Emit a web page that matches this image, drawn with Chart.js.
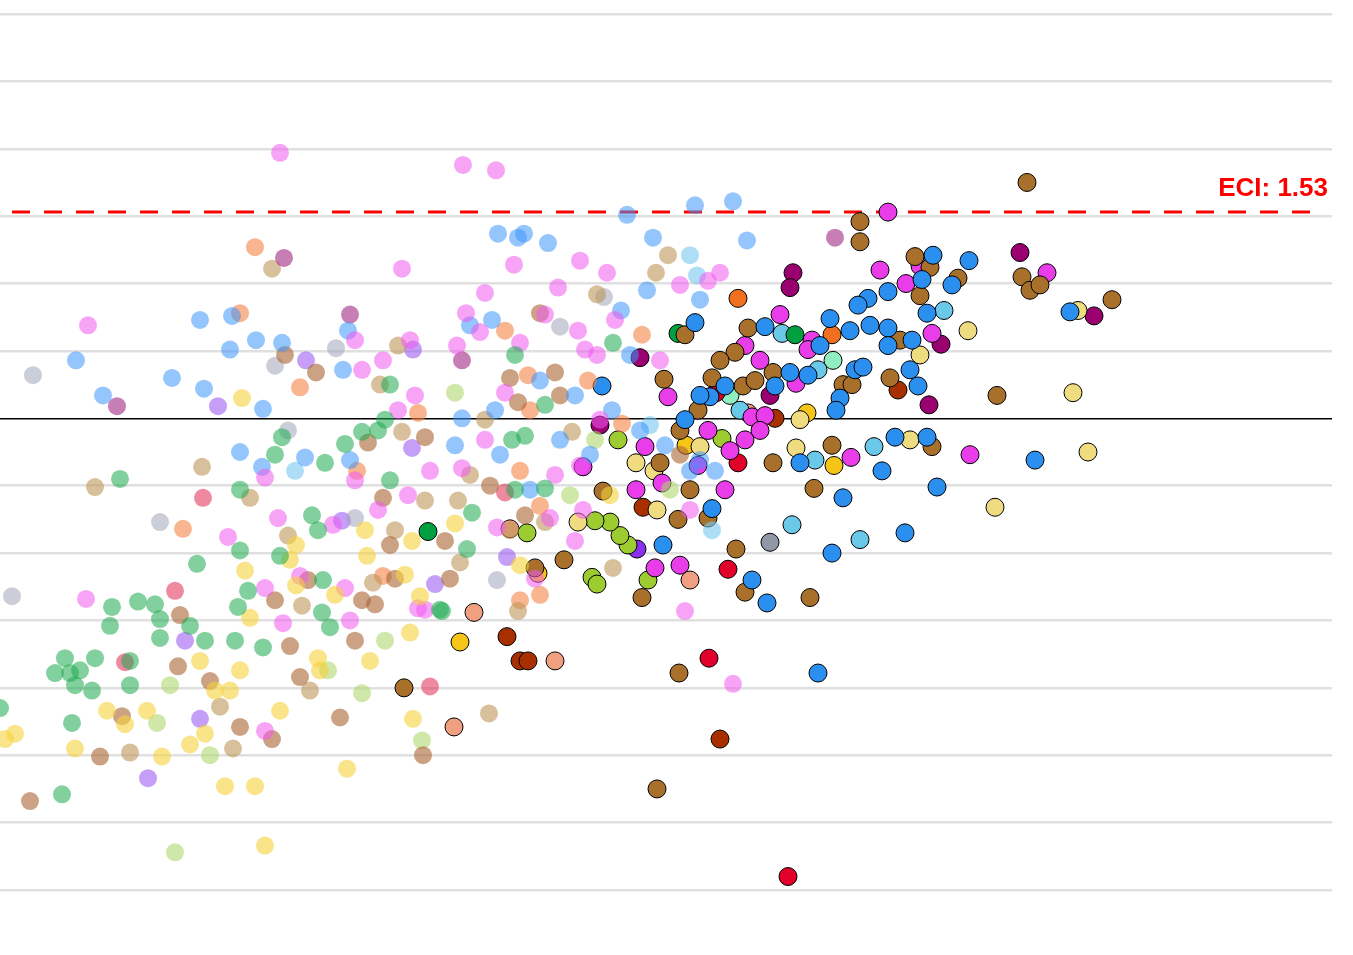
<!DOCTYPE html>
<html><head><meta charset="utf-8">
<script src="https://cdn.jsdelivr.net/npm/chart.js@4"></script>
<style>html,body{margin:0;padding:0;background:#fff}#w{width:1353px;height:955px}</style>
</head><body><div id="w"><canvas id="c"></canvas></div>
<script>
const eciValue = 1.53;
const yTicks = [-3.5,-3,-2.5,-2,-1.5,-1,-0.5,0,0.5,1,1.5,2,2.5,3];
// faded (other economies)
const fadedGreen = [[0,-2.15],[6.2,-2.79],[12,-0.45],[5.5,-1.89],[6.5,-1.78],[7,-1.89],[8,-1.87],[7.5,-1.98],[9.2,-2.02],[9.5,-1.78],[11.2,-1.40],[11,-1.54],[13.8,-1.36],[15.5,-1.38],[16,-1.49],[16,-1.63],[13,-1.80],[13,-1.98],[7.2,-2.26],[19,-1.54],[20.5,-1.65],[19.7,-1.08],[24,-0.98],[24,-0.53],[28.2,-0.14],[39,0.25],[38.5,-0.01],[37.8,-0.09],[36.2,-0.10],[34.5,-0.19],[32.5,-0.33],[27.5,-0.27],[31.2,-0.72],[31.8,-0.83],[39,-0.46],[28,-1.02],[24.8,-1.28],[23.8,-1.40],[26.3,-1.70],[23.5,-1.65],[32.3,-1.20],[32.2,-1.44],[33,-1.55],[44,-1.42],[46.7,-0.97],[47.2,-0.70],[51.5,0.47],[61.3,0.56],[54.5,0.10],[51.2,-0.16],[52.5,-0.13],[51.5,-0.53],[54.5,-0.52],[44.2,-1.43]];
const fadedYellow = [[1.5,-2.34],[0.5,-2.38],[10.7,-2.17],[12.5,-2.27],[7.5,-2.45],[14.7,-2.17],[16.2,-2.51],[19,-2.42],[20.5,-2.34],[22.5,-2.73],[25.5,-2.73],[26.5,-3.17],[28,-2.17],[21.5,-2.02],[20,-1.80],[23,-2.02],[24,-1.87],[24.2,0.15],[29.6,-0.94],[36.5,-0.83],[41.2,-0.91],[29,-1.05],[29.6,-1.24],[24.5,-1.13],[25,-1.48],[32,-1.87],[31.8,-1.78],[34.7,-2.60],[33.5,-1.31],[37,-1.80],[36.7,-1.02],[40.5,-1.16],[41,-1.59],[42,-1.32],[45.5,-0.78],[52,-1.09],[61,-0.57],[41.3,-2.23]];
const fadedPink = [[8.8,0.69],[8.6,-1.34],[26.5,-2.32],[22.8,-0.88],[28,1.97],[35.5,0.58],[36.2,0.36],[38.3,0.43],[41,0.58],[40.2,1.11],[41.5,0.17],[39.8,0.06],[26.5,-0.44],[27.8,-0.74],[33.3,-0.79],[35.5,-0.46],[37.8,-0.68],[40.8,-0.57],[43,-0.39],[30,-1.17],[28.3,-1.52],[26.5,-1.26],[34.5,-1.26],[35,-1.50],[41.8,-1.41],[42.5,-1.42],[46.2,-0.37],[45.7,0.54],[46.3,1.88],[49.6,1.84],[48.5,0.93],[46.6,0.78],[48,0.64],[52,0.56],[51.4,1.14],[54.5,0.77],[55.8,0.97],[58,1.17],[60.7,1.08],[61.5,0.73],[57.8,0.65],[58.5,0.51],[59.7,0.47],[66,0.43],[72,1.08],[68,0.99],[70.8,1.02],[50.5,0.19],[48.5,-0.16],[49.7,-0.81],[55.5,-0.42],[55,-0.74],[58,-0.35],[60,-0.01],[69,-0.68],[53.5,-1.19],[58.3,-0.68],[57.5,-0.91],[68.5,-1.43],[73.3,-1.97]];
const fadedBlue = [[7.6,0.43],[10.3,0.17],[24,-0.25],[26.2,-0.36],[26.3,0.07],[20.4,0.22],[17.2,0.30],[23,0.51],[20,0.73],[23.2,0.76],[25.6,0.58],[28.2,0.56],[34.8,0.65],[34.3,0.36],[35,-0.31],[30.5,-0.29],[45.5,-0.20],[46.2,0],[47,0.69],[49.2,0.73],[49.8,1.37],[51.8,1.34],[52.4,1.37],[54.8,1.30],[62.7,1.51],[65.3,1.34],[64.7,0.95],[62.1,0.80],[63,0.47],[69.5,1.58],[73.3,1.61],[74.7,1.32],[70,0.88],[54,0.28],[57.5,0.17],[49.5,0.06],[50,-0.27],[53,-0.53],[56,-0.16],[59,-0.27],[61.2,0.06],[64,-0.09],[66.5,-0.20],[69,-0.39],[70,-0.31],[71.5,-0.39]];
const fadedBrown = [[3,-2.84],[12.2,-2.21],[10,-2.51],[24,-2.29],[27.2,-2.38],[17.8,-1.84],[21,-1.95],[18,-1.46],[28.5,0.47],[31.6,0.34],[36.8,-0.18],[38.3,-0.59],[39,-0.94],[42.5,-0.14],[30.8,-1.20],[29,-1.69],[27.5,-1.35],[30,-1.92],[34,-2.22],[35.5,-1.65],[36.2,-1.35],[37.5,-1.38],[39.5,-1.19],[45,-1.19],[44.5,-0.91],[54,0.78],[55.5,0.34],[51,0.30],[51.8,0.12],[56,0.17],[49,-0.50],[52.5,-0.72],[68,-0.27],[42.3,-2.50]];
const fadedPlum = [[11.7,0.09],[28.4,1.19],[35,0.77],[83.5,1.34],[46.2,0.43]];
const fadedTan = [[9.5,-0.51],[13,-2.48],[23.3,-2.45],[22,-2.14],[20.2,-0.36],[25,-0.59],[27.2,1.11],[38,0.25],[39.8,0.54],[40.2,-0.10],[28.8,-0.87],[39.5,-0.83],[42.5,-0.61],[30.2,-1.39],[31,-2.02],[37.3,-1.22],[46,-1.07],[47,-0.42],[45.8,-0.61],[48.5,-0.01],[51,-0.83],[57.2,-0.10],[54.5,-0.77],[51.8,-1.43],[61.3,-1.11],[48.9,-2.19],[59.7,0.92],[66.8,1.21],[65.6,1.08]];
const fadedOrange = [[25.5,1.27],[24,0.78],[30,0.23],[18.3,-0.82],[35.7,-0.39],[38.3,-1.17],[41.8,0.04],[50.5,0.65],[64.2,0.62],[52.8,0.32],[53,0.06],[58.8,0.28],[62.2,-0.04],[52,-0.39],[54,-0.65],[52,-1.35],[54,-1.31]];
const fadedGrey = [[3.3,0.32],[1.2,-1.32],[16,-0.77],[28.8,-0.09],[27.5,0.39],[33.6,0.52],[35.5,-0.74],[56,0.68],[60.4,0.90],[49.7,-1.20]];
const fadedLime = [[17.5,-3.22],[15.7,-2.26],[21,-2.50],[17,-1.98],[36.2,-2.04],[32.8,-1.87],[38.5,-1.65],[45.5,0.19],[57,-0.57],[59.5,-0.16],[67,-0.53],[42.2,-2.39]];
const fadedViolet = [[14.8,-2.67],[20,-2.23],[18.5,-1.65],[21.8,0.09],[30.6,0.43],[41.3,0.51],[41.2,-0.22],[34.2,-0.76],[43.5,-1.23],[50.7,-1.03]];
const fadedRed = [[12.5,-1.81],[17.5,-1.28],[20.3,-0.59],[50.5,-0.55],[43,-1.99]];
const fadedCyan = [[29.5,-0.39],[69,1.21],[69.7,1.06],[65,-0.05],[71.2,-0.83]];
// highlighted (bordered)
const hlBlue = [[107,0.79],[96.9,1.17],[95.2,0.99],[93.3,1.21],[92.2,1.03],[88.8,0.94],[86.8,0.89],[85.8,0.84],[83,0.74],[85,0.65],[87,0.69],[88.8,0.67],[88.8,0.54],[91.2,0.58],[92.7,0.78],[91,0.36],[91.8,0.24],[76.5,0.68],[82,0.54],[85.5,0.36],[86.3,0.38],[84,0.15],[83.6,0.06],[80.8,0.32],[79,0.34],[77.5,0.24],[72.5,0.24],[71,0.16],[70,0.17],[68.5,-0.01],[71.2,-0.67],[80,-0.33],[89.5,-0.14],[92.7,-0.14],[88.2,-0.39],[103.5,-0.31],[93.7,-0.51],[84.3,-0.59],[90.5,-0.85],[83.2,-1.00],[75.2,-1.20],[76.7,-1.37],[81.8,-1.89],[66.3,-0.94],[60.2,0.24],[69.5,0.71]];
const hlBrown = [[102.7,1.75],[86,1.46],[86,1.31],[102.2,1.05],[103,0.95],[104,0.99],[111.2,0.88],[95.8,1.04],[91.5,1.20],[93,1.12],[92,0.91],[90,0.58],[89,0.30],[99.7,0.17],[74.8,0.67],[84.3,0.25],[85.2,0.25],[77.3,0.34],[73.5,0.49],[72,0.43],[71.2,0.30],[74.3,0.24],[75.5,0.28],[69.8,0.06],[68,-0.09],[69,-0.53],[70.8,-0.74],[77.3,-0.33],[83.2,-0.20],[93.2,-0.21],[81.4,-0.52],[73.6,-0.97],[74.5,-1.29],[81,-1.33],[67.9,-1.89],[65.7,-2.75],[64.2,-1.33],[60.3,-0.54],[67.8,-0.75],[66,-0.33],[66.4,0.29],[68.5,0.62],[56.4,-1.05],[53.5,-1.11],[40.4,-2.00]];
const hlMagenta = [[88.8,1.53],[104.7,1.08],[92,1.13],[88,1.10],[90.6,1.00],[93.2,0.63],[78,0.77],[81.2,0.58],[80.8,0.51],[79.6,0.26],[76,0.43],[74.5,0.54],[75.2,0.01],[76.5,0.02],[76,-0.09],[74.5,-0.16],[73,-0.24],[70.8,-0.09],[69.8,-0.35],[72.5,-0.53],[85.1,-0.29],[97,-0.27],[68,-1.09],[65.5,-1.11],[66.2,-0.48],[63.6,-0.53],[64.5,-0.21],[58.3,-0.36],[66.8,0.16]];
const hlPale = [[107.8,0.80],[96.8,0.65],[92,0.47],[107.3,0.19],[70,-0.21],[80,-0.01],[79.6,-0.22],[91,-0.16],[108.8,-0.25],[99.5,-0.66],[57.8,-0.77],[65.7,-0.68],[65.4,-0.39],[63.6,-0.33]];
const hlPlum = [[102,1.23],[109.4,0.76],[94.1,0.55],[92.9,0.10],[79.3,1.08],[79,0.97],[77,0.17],[60,-0.05],[64,0.45]];
const hlRed = [[73.8,-0.33],[71.6,0.19],[72.8,-1.12],[70.9,-1.78],[78.8,-3.40]];
const hlDarkRed = [[89.8,0.21],[77.5,0],[72,-2.38],[64.3,-0.66],[50.7,-1.62],[52,-1.80],[52.8,-1.80]];
const hlLime = [[72.2,-0.15],[64.8,-1.20],[62.8,-0.94],[62,-0.87],[61,-0.77],[59.5,-0.76],[61.8,-0.16],[59.2,-1.18],[59.7,-1.23],[52.7,-0.85]];
const hlGreen = [[79.5,0.62],[67.8,0.63],[42.8,-0.84]];
const hlOrange = [[73.8,0.89],[83.2,0.62]];
const hlSky = [[94.4,0.80],[78.2,0.63],[81.8,0.36],[74,0.06],[81.5,-0.31],[87.4,-0.21],[86,-0.90],[79.2,-0.79]];
const hlMint = [[83.3,0.43],[73,0.17]];
const hlGold = [[68.6,-0.20],[80.7,0.04],[83.4,-0.35],[53.8,-1.15],[46,-1.66]];
const hlPurple = [[63.7,-0.97]];
const hlSalmon = [[74.8,0.04],[69,-1.20],[51,-0.82],[47.4,-1.44],[55.5,-1.80],[45.4,-2.29]];
const hlGrey = [[77,-0.92]];

const pts = a => a.map(p => ({x:p[0], y:p[1]}));
const faded = [[fadedGreen,'rgba(30,170,80,0.55)'],[fadedYellow,'rgba(245,210,60,0.6)'],[fadedPink,'rgba(240,90,240,0.55)'],[fadedBlue,'rgba(60,150,250,0.55)'],[fadedBrown,'rgba(170,100,50,0.6)'],[fadedPlum,'rgba(160,40,130,0.6)'],[fadedTan,'rgba(190,150,90,0.6)'],[fadedOrange,'rgba(245,130,70,0.6)'],[fadedGrey,'rgba(160,165,185,0.55)'],[fadedLime,'rgba(175,215,110,0.6)'],[fadedViolet,'rgba(150,80,240,0.55)'],[fadedRed,'rgba(225,40,80,0.55)'],[fadedCyan,'rgba(120,200,240,0.6)']];
const strong = [[hlBlue,'#2b8ff0'],[hlBrown,'#a8702a'],[hlMagenta,'#e93de9'],[hlPale,'#f0dc80'],[hlPlum,'#9a0070'],[hlRed,'#e0002a'],[hlDarkRed,'#a83000'],[hlLime,'#9ccc30'],[hlGreen,'#00a040'],[hlOrange,'#f07020'],[hlSky,'#6ac8e8'],[hlMint,'#90eec0'],[hlGold,'#f5c518'],[hlPurple,'#8a30f0'],[hlSalmon,'#f0a080'],[hlGrey,'#9098a8']];
const datasets = [];
faded.forEach(([d,c]) => datasets.push({type:'scatter',data:pts(d),backgroundColor:c,borderWidth:0,pointRadius:9,pointHoverRadius:9}));
strong.forEach(([d,c]) => datasets.push({type:'scatter',data:pts(d),backgroundColor:c,borderColor:'#000',borderWidth:1,pointRadius:9,pointHoverRadius:9}));
datasets.push({type:'line',data:[{x:1.2,y:eciValue},{x:132,y:eciValue}],borderColor:'#f00',borderWidth:3,borderDash:[18,14],pointRadius:0,fill:false});

const labelPlugin = {id:'eci',afterDatasetsDraw(ch){
  const ctx=ch.ctx, y=ch.scales.y.getPixelForValue(eciValue);
  ctx.save();ctx.fillStyle='#f00';ctx.font='bold 26px "Liberation Sans", Arial, sans-serif';
  ctx.textAlign='right';ctx.textBaseline='alphabetic';
  ctx.fillText('ECI: '+eciValue.toFixed(2), ch.chartArea.right-4, y-16);ctx.restore();}};

new Chart(document.getElementById('c'),{
  data:{datasets},
  options:{responsive:true,maintainAspectRatio:false,animation:false,
    layout:{autoPadding:false,padding:{left:0,right:21,top:14,bottom:65}},
    plugins:{legend:{display:false},tooltip:{enabled:false}},
    scales:{
      x:{type:'linear',min:0,max:133.2,display:false},
      y:{type:'linear',min:-3.5,max:3,afterBuildTicks:s=>{s.ticks=yTicks.map(v=>({value:v}));},
        afterFit:s=>{s.width=0;},
        ticks:{display:false},border:{display:false},
        grid:{drawTicks:false,color:c=>c.tick&&c.tick.value===0?'#000':'#e0e0e0',lineWidth:c=>c.tick&&c.tick.value===0?1.5:2.5}}
    }},
  plugins:[labelPlugin]
});
</script></body></html>
